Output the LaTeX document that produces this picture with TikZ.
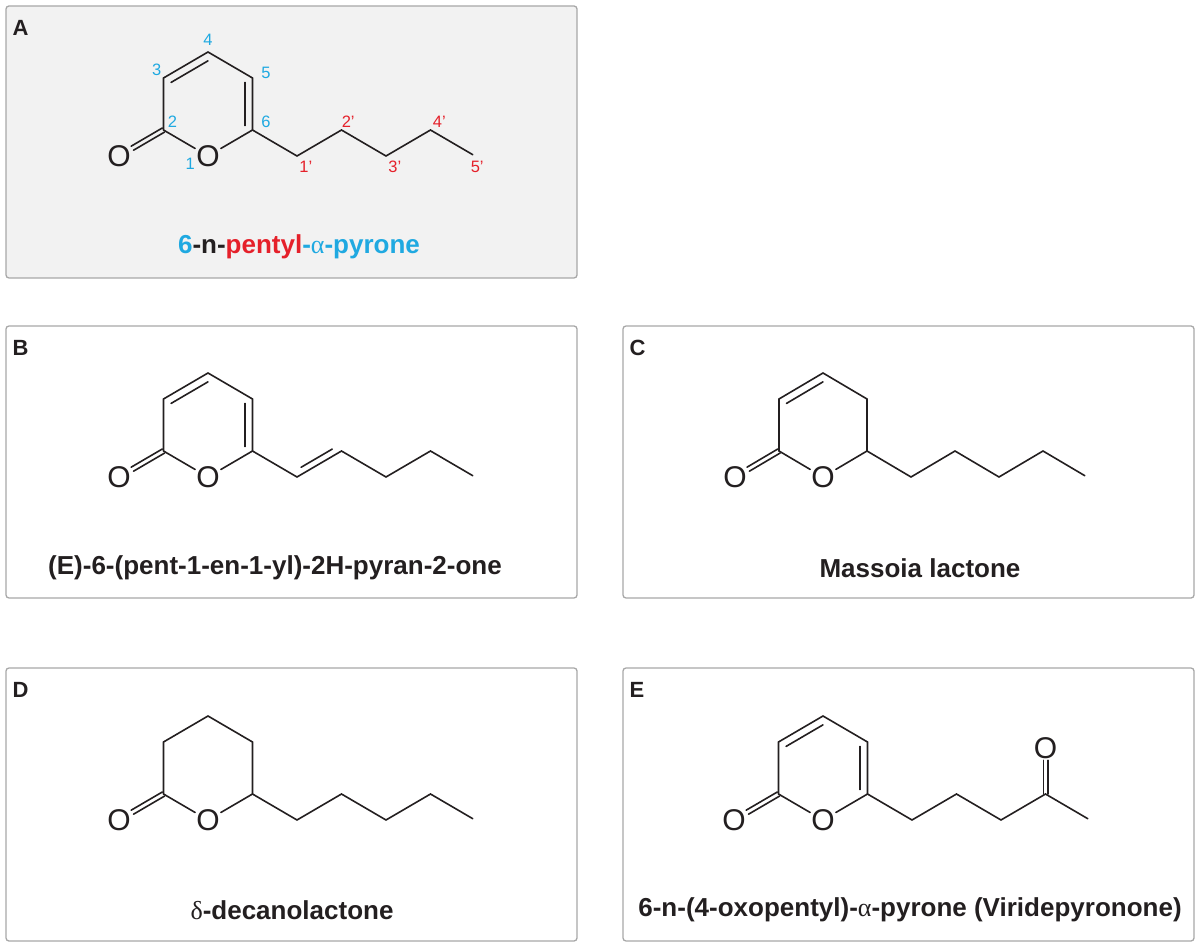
\documentclass[tikz,border=0pt]{standalone}
\usepackage{fontspec}
\setmainfont{Liberation Sans}
\newfontfamily\grk{Liberation Serif}
\usetikzlibrary{calc}
\definecolor{numblue}{HTML}{1FA9E1}
\definecolor{numred}{HTML}{E5202A}
\definecolor{boxgray}{HTML}{A8A8A8}
\definecolor{txt}{HTML}{231F20}
\tikzset{
  panel/.style={draw=boxgray,line width=1.3pt,rounded corners=3pt},
  plabel/.style={font=\fontsize{22}{22}\selectfont\bfseries,anchor=west,text=txt},
  title/.style={font=\fontsize{26}{27}\selectfont\bfseries,text=txt},
  atom/.style={font=\fontsize{30}{30}\selectfont,inner sep=1pt,text=txt},
  bnd/.style={line width=1.6pt,txt,line cap=round},
  bl/.style={font=\fontsize{16.5}{17}\selectfont,text=numblue,inner sep=0pt},
  rl/.style={font=\fontsize{16.5}{17}\selectfont,text=numred,inner sep=0pt},
}
\newcommand{\ringbase}{%
  \node[atom] (o1) at (0,0) {O};
  \coordinate (c2) at (-1,-1);
  \coordinate (c3) at (-1,-3);
  \coordinate (c4) at (0,-4);
  \coordinate (c5) at (1,-3);
  \coordinate (c6) at (1,-1);
  \coordinate (cen) at (0,-2);
  \node[atom] (oc) at (-2.0,0.0) {O};
  \coordinate (ocb) at ($(c2)!0.7!(oc)$);
  \draw[bnd] (c2) -- (o1) -- (c6);
  \draw[bnd] (c2) -- (c3) -- (c4) -- (c5) -- (c6);
  \draw[bnd] ($(c2)+(1.2pt,-2.0pt)$) -- ($(ocb)+(1.2pt,-2.0pt)$);
  \draw[bnd] ($(c2)+(-1.2pt,2.0pt)$) -- ($(ocb)+(-1.2pt,2.0pt)$);
}
\newcommand{\dbin}[2]{\draw[bnd] ($(#1)!0.17!(cen)$) -- ($(#2)!0.17!(cen)$);}
\newcommand{\chain}{%
  \coordinate (p1) at (2,0);
  \coordinate (p2) at (3,-1);
  \coordinate (p3) at (4,0);
  \coordinate (p4) at (5,-1);
  \coordinate (p5) at (5.95,-0.05);
  \draw[bnd] (c6) -- (p1) -- (p2) -- (p3) -- (p4) -- (p5);
}
\begin{document}
\begin{tikzpicture}[x=1pt,y=-1pt]
\useasboundingbox (0,0) rectangle (1200,949);
% panels
\draw[panel,fill=black!5] (6,6) rectangle (577,278);
\draw[panel] (6,326) rectangle (577,598);
\draw[panel] (623,326) rectangle (1194,598);
\draw[panel] (6,668) rectangle (577,941);
\draw[panel] (623,668) rectangle (1194,941);
\node[plabel] (la) at (9,28) {A};
\node[plabel] (lb) at (9,348) {B};
\node[plabel] (lc) at (626,348) {C};
\node[plabel] (ld) at (9,690) {D};
\node[plabel] (le) at (626,690) {E};
% titles
\node[title] (ta) at (299,247) {\textcolor{numblue}{6}-n-\textcolor{numred}{pentyl}\textcolor{numblue}{-{\grk\mdseries α}-pyrone}};
\node[title] (tb) at (275,568) {(E)-6-(pent-1-en-1-yl)-2H-pyran-2-one};
\node[title] (tc) at (920,568) {Massoia lactone};
\node[title] (td) at (292,910) {{\grk\mdseries δ}-decanolactone};
\node[title] (te) at (910,910) {6-n-(4-oxopentyl)-{\grk\mdseries α}-pyrone (Viridepyronone)};
% A
\begin{scope}[shift={(208,156)},x=44.5pt,y=-26pt]
  \ringbase \dbin{c3}{c4} \dbin{c5}{c6} \chain
  \node[bl] (n1) at (-0.4,0.3) {1};
  \node[bl] (n2) at (-0.8,-1.3) {2};
  \node[bl] (n3) at (-1.15,-3.3) {3};
  \node[bl] (n4) at (0,-4.45) {4};
  \node[bl] (n5) at (1.3,-3.2) {5};
  \node[bl] (n6) at (1.3,-1.3) {6};
  \node[rl] (r1) at (2.2,0.42) {1'};
  \node[rl] (r2) at (3.15,-1.3) {2'};
  \node[rl] (r3) at (4.2,0.42) {3'};
  \node[rl] (r4) at (5.2,-1.3) {4'};
  \node[rl] (r5) at (6.05,0.42) {5'};
\end{scope}
% B
\begin{scope}[shift={(208,477)},x=44.5pt,y=-26pt]
  \ringbase \dbin{c3}{c4} \dbin{c5}{c6} \chain
  \draw[bnd] ($(p1)!0.15!(p2)+(-2.6pt,5.8pt)$) -- ($(p1)!0.85!(p2)+(-2.6pt,5.8pt)$);
\end{scope}
% C
\begin{scope}[shift={(823,477)},x=44pt,y=-26pt]
  \ringbase \dbin{c3}{c4} \chain
\end{scope}
% D
\begin{scope}[shift={(208,820)},x=44.5pt,y=-26pt]
  \ringbase \chain
\end{scope}
% E
\begin{scope}[shift={(823,820)},x=44.5pt,y=-26pt]
  \ringbase \dbin{c3}{c4} \dbin{c5}{c6}
  \coordinate (p1) at (2,0);
  \coordinate (p2) at (3,-1);
  \coordinate (p3) at (4,0);
  \coordinate (p4) at (5,-1);
  \coordinate (p5) at (5.95,-0.05);
  \node[atom] (ko) at (5,-2.75) {O};
  \draw[bnd] (c6) -- (p1) -- (p2) -- (p3) -- (p4) -- (p5);
  \draw[bnd] ($(p4)+(-2.2pt,0)$) -- ($(ko.south)+(-2.2pt,0)$);
  \draw[bnd] ($(p4)+(2.2pt,0)$) -- ($(ko.south)+(2.2pt,0)$);
\end{scope}
\end{tikzpicture}
\end{document}
